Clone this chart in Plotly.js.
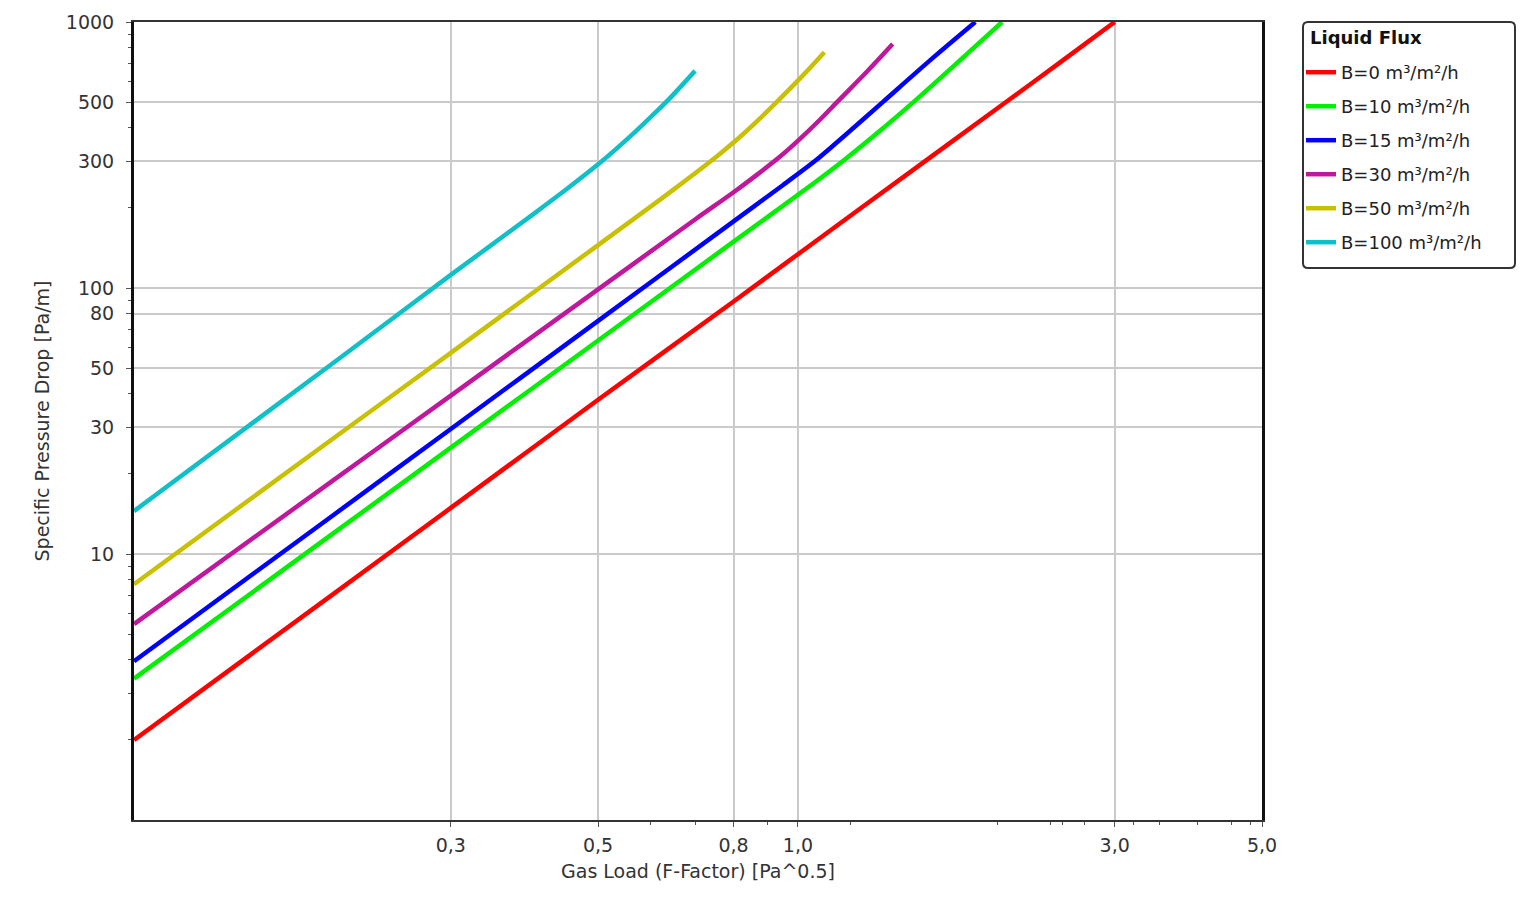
<!DOCTYPE html>
<html>
<head>
<meta charset="utf-8">
<script src="https://cdn.plot.ly/plotly-3.0.1.min.js"></script>
<style>
  html, body { margin: 0; padding: 0; background: #fff; }
  #chart { width: 1536px; height: 904px; }
</style>
</head>
<body>
<div id="chart"></div>
<script>
// ---- Data (Gas load F-factor vs specific pressure drop) ----
const seriesNames = ["B=0 m³/m²/h", "B=10 m³/m²/h", "B=15 m³/m²/h", "B=30 m³/m²/h", "B=50 m³/m²/h", "B=100 m³/m²/h"];
const seriesColors = ["#ff0000", "#00f000", "#0000ff", "#c0179c", "#c8c000", "#10c0c8"];
const legendTitle = "Liquid Flux";

const xB0   = [0.1, 0.2, 0.3, 0.5, 0.8, 1.0, 1.5, 2.0, 2.5, 3.0];
const yB0   = [2.0, 7.1, 14.9, 38, 89, 134, 281, 475, 714, 1000];

const xB10  = [0.1, 0.2, 0.3, 0.5, 0.8, 1.05, 1.174, 1.35, 1.497, 1.75, 2.03];
const yB10  = [3.4, 12.0, 25.1, 63.5, 149.4, 245, 303, 403, 503, 714, 1000];

const xB15  = [0.1, 0.2, 0.3, 0.5, 0.8, 0.95, 1.064, 1.2, 1.342, 1.6, 1.85];
const yB15  = [3.95, 14.05, 29.5, 75.2, 178, 244, 302, 391, 500, 736, 1000];

const xB30  = [0.1, 0.2, 0.3, 0.5, 0.7, 0.8, 0.87, 0.94, 1.01, 1.08, 1.15, 1.27, 1.389];
const yB30  = [5.45, 19.0, 39.4, 98.8, 181, 229, 268, 312, 366, 430, 505, 650, 826];

const xB50  = [0.1, 0.2, 0.3, 0.5, 0.62, 0.7, 0.76, 0.82, 0.88, 0.94, 1.02, 1.096];
const yB50  = [7.7, 27.3, 57, 145, 215, 270, 317, 372, 438, 515, 634, 770];

const xB100 = [0.1, 0.2, 0.3, 0.4, 0.45, 0.507, 0.56, 0.6, 0.64, 0.70];
const yB100 = [14.5, 52.5, 112, 190, 237, 300, 373, 439, 514, 655];

const xTickVals = [0.3, 0.5, 0.8, 1.0, 3.0, 5.0];
const xTickText = ["0,3", "0,5", "0,8", "1,0", "3,0", "5,0"];
const xMinorVals = [0.6, 0.7, 0.9, 1.2, 2.0, 2.4, 2.5, 2.7, 3.2, 3.5, 4.0, 4.5, 4.8];
const yTickVals = [10, 30, 50, 80, 100, 300, 500, 1000];
const yTickText = ["10", "30", "50", "80", "100", "300", "500", "1000"];
const yMinorVals = [2, 3, 4, 5, 6, 7, 8, 9, 20, 40, 60, 70, 90, 200, 400, 600, 700, 800, 900];

const xs = [xB0, xB10, xB15, xB30, xB50, xB100];
const ys = [yB0, yB10, yB15, yB30, yB50, yB100];

const FONT = "DejaVu Sans, Liberation Sans, Arial, sans-serif";

const traces = xs.map((x, i) => ({
  type: "scatter",
  mode: "lines",
  x: x,
  y: ys[i],
  name: seriesNames[i],
  legendgroup: "g" + i,
  line: { color: seriesColors[i], width: 4.5, shape: "spline", smoothing: 0.8 },
  hoverinfo: "x+y+name"
}));

// plot-area pixel frame -> paper coordinates helpers
const L = 134, R = 1262, T = 22, B = 820;
const px = v => (v - L) / (R - L);
const py = v => (B - v) / (B - T);
const fx0 = px(1303), fx1 = px(1515), fy0 = py(22), fy1 = py(268);
const rx = 5 / (R - L), ry = 5 / (B - T);
const framePath =
  `M ${fx0 + rx} ${fy0} L ${fx1 - rx} ${fy0} Q ${fx1} ${fy0} ${fx1} ${fy0 - ry} ` +
  `L ${fx1} ${fy1 + ry} Q ${fx1} ${fy1} ${fx1 - rx} ${fy1} ` +
  `L ${fx0 + rx} ${fy1} Q ${fx0} ${fy1} ${fx0} ${fy1 + ry} ` +
  `L ${fx0} ${fy0 - ry} Q ${fx0} ${fy0} ${fx0 + rx} ${fy0} Z`;

const layout = {
  width: 1536,
  height: 904,
  paper_bgcolor: "#ffffff",
  plot_bgcolor: "#ffffff",
  margin: { l: 134, r: 274, t: 22, b: 84 },
  font: { family: FONT, size: 18, color: "#222" },
  showlegend: true,
  shapes: [
    { type: "path", xref: "paper", yref: "paper", path: framePath,
      line: { color: "#333333", width: 2 }, fillcolor: "rgba(0,0,0,0)", layer: "below" }
  ],
  annotations: [
    { xref: "paper", yref: "paper", x: px(1308), y: py(37), xanchor: "left", yanchor: "middle",
      text: "<b>" + legendTitle + "</b>", showarrow: false,
      font: { family: FONT, size: 18, color: "#111" } }
  ],
  legend: {
    x: px(1301), xanchor: "left",
    y: py(54), yanchor: "top",
    bgcolor: "rgba(0,0,0,0)",
    borderwidth: 0,
    traceorder: "grouped",
    tracegroupgap: 7.6,
    itemwidth: 30,
    font: { family: FONT, size: 18, color: "#222" }
  },
  xaxis: {
    type: "log",
    range: [-1, Math.log10(5)],
    tickmode: "array",
    tickvals: xTickVals,
    ticktext: xTickText,
    ticks: "outside",
    ticklen: 5,
    tickwidth: 1,
    tickcolor: "#555",
    ticklabelstandoff: 2,
    tickfont: { family: FONT, size: 19, color: "#333" },
    showgrid: true,
    gridcolor: "#cacaca",
    gridwidth: 2,
    showline: true,
    linecolor: "#333",
    linewidth: 2,
    mirror: true,
    zeroline: false,
    minor: { tickmode: "array", tickvals: xMinorVals, ticks: "outside", ticklen: 3, tickcolor: "#555", showgrid: false },
    title: { text: "Gas Load (F-Factor) [Pa^0.5]", font: { family: FONT, size: 19, color: "#333" }, standoff: 10 }
  },
  yaxis: {
    type: "log",
    range: [0, 3],
    tickmode: "array",
    tickvals: yTickVals,
    ticktext: yTickText,
    ticks: "outside",
    ticklen: 5,
    tickwidth: 1,
    tickcolor: "#555",
    ticklabelstandoff: 8,
    tickfont: { family: FONT, size: 19, color: "#333" },
    showgrid: true,
    gridcolor: "#cacaca",
    gridwidth: 2,
    showline: true,
    linecolor: "#111",
    linewidth: 3,
    mirror: true,
    zeroline: false,
    minor: { tickmode: "array", tickvals: yMinorVals, ticks: "outside", ticklen: 3, tickcolor: "#555", showgrid: false },
    title: { text: "Specific Pressure Drop [Pa/m]", font: { family: FONT, size: 19, color: "#333" }, standoff: 12 }
  }
};

Plotly.newPlot("chart", traces, layout, { displayModeBar: false, staticPlot: true });
</script>
</body>
</html>
